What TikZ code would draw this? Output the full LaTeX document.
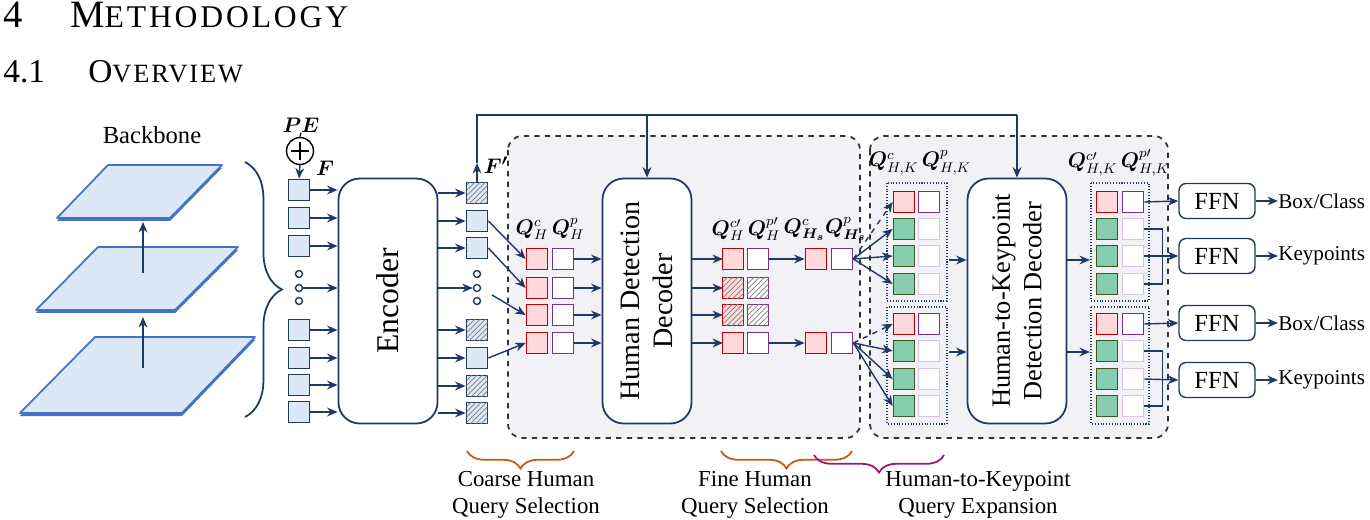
\documentclass[tikz,border=0pt]{standalone}
\usepackage{fontspec}
\usepackage{amsmath,bm}
\setmainfont{Liberation Serif}
\usetikzlibrary{arrows.meta,patterns,decorations.pathreplacing,calc}
\definecolor{navy}{HTML}{203864}
\definecolor{lblue}{HTML}{DCE8F6}
\definecolor{pblue}{HTML}{4472C4}
\definecolor{myred}{HTML}{C00000}
\definecolor{lred}{HTML}{FFD9DC}
\definecolor{mypurple}{HTML}{7030A0}
\definecolor{lpurple}{HTML}{D9C3E8}
\definecolor{mygreen}{HTML}{385723}
\definecolor{mgreen}{HTML}{86CDB0}
\definecolor{bgray}{HTML}{F2F2F6}
\definecolor{myorange}{HTML}{C55A11}
\definecolor{mymag}{HTML}{A0127A}
\begin{document}
\begin{tikzpicture}[x=0.02cm,y=-0.02cm,
  txt/.style={font=\fontsize{13}{15}\selectfont},
  mth/.style={font=\fontsize{12}{14}\selectfont,inner sep=0pt},
  arr/.style={navy,line width=0.8pt,-{Stealth[length=6pt,width=5pt]}},
  ln/.style={navy,line width=0.8pt},
  sq/.style={draw,minimum size=0.42cm,inner sep=0pt,line width=1pt},
  fsq/.style={sq,draw=navy,fill=lblue},
  rsq/.style={sq,draw=myred,fill=lred},
  psq/.style={sq,draw=mypurple,fill=white},
  gsq/.style={sq,draw=mygreen,fill=mgreen},
  wsq/.style={sq,draw=lpurple,fill=white},
  hatch/.style={postaction={pattern=north east lines,pattern color=gray}},
  box/.style={draw=navy,line width=1pt,rounded corners=12pt,fill=white},
  region/.style={draw=black!80,dashed,line width=1pt,rounded corners=8pt,fill=bgray},
  grp/.style={draw=navy,densely dotted,line width=0.6pt},
  dot/.style={draw=navy,line width=0.8pt,circle,inner sep=0pt,minimum size=0.14cm},
  plane/.style={draw=pblue,line width=1pt,fill=lblue,line join=round},
  brc/.style={decorate,line width=1pt,decoration={brace,amplitude=10pt}}]
\useasboundingbox (0,0) rectangle (1370,520);

% headings
\node[anchor=base west,inner sep=0,font=\fontsize{22}{24}\selectfont] (h1) at (3,28) {4};
\node[anchor=base west,inner sep=0,font=\fontsize{22}{24}\selectfont] (h1b) at (70,28) {M\fontsize{18}{20}\selectfont\addfontfeatures{LetterSpace=9}ETHODOLOGY};
\node[anchor=base west,inner sep=0,font=\fontsize{19}{21}\selectfont] (h2) at (3,83) {4.1};
\node[anchor=base west,inner sep=0,font=\fontsize{19}{21}\selectfont] (h2b) at (88,83) {O\fontsize{15}{17}\selectfont\addfontfeatures{LetterSpace=7}VERVIEW};

% backbone
\node[txt,font=\fontsize{14}{16}\selectfont] (bb) at (152,135) {Backbone};
\foreach \a/\b/\c/\d/\y/\z in {95/255/20/182/337/413, 98/238/36/175/247/310, 108/222/57/170/165/218}{
  \fill[pblue] (\a,\y+3) -- (\b,\y+3) -- (\d,\z+3) -- (\c,\z+3) -- cycle;
  \draw[plane] (\a,\y) -- (\b,\y) -- (\d,\z) -- (\c,\z) -- cycle;}
\coordinate (b1) at (143,368); \coordinate (b2) at (143,317);
\coordinate (b3) at (143,273); \coordinate (b4) at (143,222);
\draw[arr] (b1) -- (b2);
\draw[arr] (b3) -- (b4);
\draw[brc,navy,decoration={amplitude=21pt}] (245,162) -- (245,417);

% regions
\draw[region] (508,136) rectangle (860,438);
\draw[region] (870,136) rectangle (1168,438);

% input tokens
\foreach \i/\y in {1/190,2/218,3/246,4/330,5/358,6/385,7/412}
  \node[fsq] (f\i) at (299,\y) {};
\foreach \i/\y in {1/274,2/288,3/301} \node[dot] (fd\i) at (299,\y) {};
\node[mth,font=\fontsize{13}{15}\selectfont] (pet) at (301,125) {$\bm{PE}$};
\node[draw,circle,minimum size=0.54cm,inner sep=0,line width=0.8pt] (pe) at (300,151) {};
\draw[line width=0.8pt] (291,151) -- (309,151) (300,142) -- (300,160);
\draw[line width=0.6pt] (pet.south) -- (pe.north);
\draw[arr] (pe.south) -- (f1.north);
\node[mth,font=\fontsize{13}{15}\selectfont] (ft) at (325,168) {$\bm{F}$};

% encoder
\node[box,minimum width=1.98cm,minimum height=4.9cm] (enc) at (388,301) {};
\node[rotate=90,font=\fontsize{18}{20}\selectfont] (enct) at (enc) {Encoder};
\foreach \i in {1,...,7} \draw[arr] (f\i.east) -- (f\i.east -| enc.west);
\draw[arr] (fd2.east) -- (fd2.east -| enc.west);

% encoder outputs
\foreach \i/\y/\h in {1/193/hatch,2/221/,3/248/,4/330/hatch,5/358/,6/386/hatch,7/413/hatch}
  \node[fsq,\h] (o\i) at (477,\y) {};
\foreach \i/\y in {1/274,2/288,3/301} \node[dot] (od\i) at (477,\y) {};
\foreach \i in {1,...,7} \draw[arr] (o\i.west -| enc.east) -- (o\i.west);
\draw[arr] (od2.west -| enc.east) -- (od2.west);
\node[mth,font=\fontsize{13}{15}\selectfont] (fpt) at (496,165) {$\bm{F'}$};

% decoders
\node[box,minimum width=1.78cm,minimum height=4.9cm] (hdd) at (647,301) {};
\node[rotate=90,align=center,font=\fontsize{16}{19}\selectfont] (hddt) at (hdd) {Human Detection\\Decoder};
\node[box,minimum width=1.98cm,minimum height=4.9cm] (hkd) at (1017,301) {};
\node[rotate=90,align=center,font=\fontsize{15}{18}\selectfont] (hkdt) at (hkd) {Human-to-Keypoint\\Detection Decoder};

% feedback line
\coordinate (fu) at (477,163);
\coordinate (fa) at (477,115);
\coordinate (fb) at (647,115);
\coordinate (fc) at (1017,115);
\draw[arr] (o1.north) -- (fu);
\draw[ln] (fu) -- (fa) -- (fc);
\draw[arr] (fb) -- (hdd.north);
\draw[arr] (fc) -- (hkd.north);

% initial human queries
\node[mth] (lq) at (550,229) {$\bm{Q}_H^c\,\bm{Q}_H^p$};
\foreach \i/\y in {1/259,2/288,3/315,4/343}{
  \node[rsq] (qc\i) at (537,\y) {};
  \node[psq] (qp\i) at (563,\y) {};
  \draw[arr] (qp\i.east) -- (qp\i.east -| hdd.west);
  \draw[arr] (qp\i.east -| hdd.east) -- (723,\y);}
\draw[arr] (o2.east) -- (qc1.west);
\draw[arr] (o3.east) -- (qc2.west);
\coordinate (odx) at (492,295);
\draw[arr] (odx) -- (qc3.west);
\draw[arr] (o5.east) -- (qc4.west);

% refined human queries
\node[mth] (lr) at (746,229) {$\bm{Q}_H^{c\prime}\,\bm{Q}_H^{p\prime}$};
\foreach \i/\y/\h in {1/259/,2/288/hatch,3/315/hatch,4/343/}{
  \node[rsq,\h] (rc\i) at (733,\y) {};
  \node[psq,\h] (rp\i) at (758,\y) {};}
\node[rsq] (sc1) at (816,259) {};
\node[psq] (sp1) at (842,259) {};
\node[rsq] (sc2) at (816,343) {};
\node[psq] (sp2) at (842,343) {};
\draw[arr] (rp1.east) -- (sc1.west);
\draw[arr] (rp4.east) -- (sc2.west);
\node[mth] (ls) at (825,229) {$\bm{Q}_{\bm{H_s}}^c\bm{Q}_{\bm{H_s}}^p$};

% human-to-keypoint queries
\node[mth] (lk) at (920,163) {$\bm{Q}_{H,K}^c\,\bm{Q}_{H,K}^p$};
\node[mth] (lk2) at (1119,163) {$\bm{Q}_{H,K}^{c\prime}\,\bm{Q}_{H,K}^{p\prime}$};
\draw[grp] (887,183) rectangle (947,301);
\draw[grp] (887,307) rectangle (947,424);
\draw[grp] (1091,183) rectangle (1149,301);
\draw[grp] (1091,307) rectangle (1149,424);
\foreach \g/\s/\ya/\yb/\yc/\yd in {a/1/202/229/256/284, b/2/324/351/379/406}{
  \node[rsq] (k\g1) at (904,\ya) {};
  \node[psq] (kp\g1) at (929,\ya) {};
  \node[rsq] (m\g1) at (1107,\ya) {};
  \node[psq] (mp\g1) at (1133,\ya) {};
  \foreach \j/\y in {2/\yb,3/\yc,4/\yd}{
    \node[gsq] (k\g\j) at (904,\y) {};
    \node[wsq] (kp\g\j) at (929,\y) {};
    \node[gsq] (m\g\j) at (1107,\y) {};
    \node[wsq] (mp\g\j) at (1133,\y) {};}
  \draw[arr,dashed] (sp\s.east) -- (k\g1.west);
  \foreach \j in {2,3,4} \draw[arr] (sp\s.east) -- (k\g\j.west);}
\coordinate (ka) at (949,260);
\coordinate (kb) at (949,352);
\coordinate (ma) at (1090,260);
\coordinate (mb) at (1090,352);
\draw[arr] (ka) -- (ka -| hkd.west);
\draw[arr] (kb) -- (kb -| hkd.west);
\draw[arr] (ma -| hkd.east) -- (ma);
\draw[arr] (mb -| hkd.east) -- (mb);

% heads
\foreach \n/\y/\t in {1/201/{Box/Class},2/256/Keypoints,3/323/{Box/Class},4/380/Keypoints}{
  \node[draw=navy,line width=0.8pt,rounded corners=4pt,fill=white,minimum width=1.52cm,minimum height=0.7cm,font=\fontsize{14}{16}\selectfont] (ffn\n) at (1217,\y) {FFN};
  \node[anchor=west,inner sep=0,font=\fontsize{12}{14}\selectfont] (out\n) at (1278,\y) {\t};
  \draw[arr] (ffn\n.east) -- (out\n.west);}
\draw[arr] (mpa1.east) -- (ffn1.west);
\draw[arr] (mpb1.east) -- (ffn3.west);
\foreach \g/\f in {a/2,b/4}{
  \draw[ln] (mp\g2.east) -- ++(18,0) |- (mp\g4.east);
  \draw[arr] (mp\g3.east) -- (ffn\f.west);}

% bottom braces
\draw[brc,myorange] (574,451) -- (467,451);
\node[txt,align=center] (l1) at (526,495) {Coarse Human\\Query Selection};
\draw[brc,myorange] (852,451) -- (721,451);
\node[txt,align=center] (l2) at (755,495) {Fine Human\\Query Selection};
\draw[brc,mymag] (944,455) -- (814,455);
\node[txt,align=center] (l3) at (978,495) {Human-to-Keypoint\\Query Expansion};
\end{tikzpicture}
\end{document}
